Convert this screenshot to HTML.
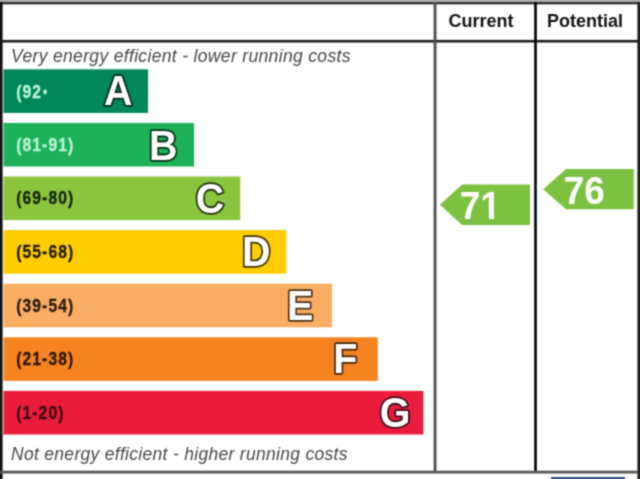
<!DOCTYPE html>
<html><head><meta charset="utf-8"><style>
html,body{margin:0;padding:0;background:#fff;width:640px;height:479px;overflow:hidden}
svg{display:block;position:absolute;left:-6px;top:-6px}
.lbl{font-family:"Liberation Sans",Arial,sans-serif;font-weight:bold;font-size:17px;letter-spacing:1.2px;stroke-width:0.3px}
.let{font-family:"Liberation Sans",Arial,sans-serif;font-weight:bold;font-size:39.5px;fill:#fff;stroke-width:3.4px;stroke-linejoin:round;paint-order:stroke}
.it{font-family:"Liberation Sans",Arial,sans-serif;font-style:italic;font-size:17.6px;letter-spacing:0.3px;fill:#474747}
.hd{font-family:"Liberation Sans",Arial,sans-serif;font-weight:bold;font-size:18px;fill:#111}
.num{font-family:"Liberation Sans",Arial,sans-serif;font-weight:bold;font-size:37px;fill:#fff}
</style></head><body>
<svg width="652" height="491" viewBox="-6 -6 652 491">
<defs><filter id="bl" color-interpolation-filters="sRGB" x="-6" y="-6" width="652" height="491" filterUnits="userSpaceOnUse"><feConvolveMatrix order="3" kernelMatrix="0.04 0.12 0.04 0.12 0.36 0.12 0.04 0.12 0.04" divisor="1" edgeMode="duplicate" preserveAlpha="true"/></filter></defs>
<g filter="url(#bl)">
<rect x="-6" y="-6" width="652" height="491" fill="#fff"/>
<rect x="-6" y="-6" width="652" height="8" fill="#aaa"/>
<rect x="-6" y="2.1" width="652" height="2.2" fill="#262626"/>
<rect x="-6" y="2" width="8.6" height="483" fill="#111"/>
<rect x="637.4" y="2" width="8.6" height="483" fill="#1e1e1e"/>
<rect x="0" y="39.9" width="639" height="2.6" fill="#1c1c1c"/>
<rect x="433.6" y="2" width="2.9" height="470" fill="#505050"/>
<rect x="534.2" y="2" width="2.6" height="470" fill="#000"/>
<rect x="0" y="470.7" width="638" height="2.8" fill="#555552"/>
<rect x="551" y="477" width="74" height="8" fill="#2a4f8f"/>

<text class="hd" x="481" y="27.4" text-anchor="middle">Current</text>
<text class="hd" x="585" y="27.4" text-anchor="middle">Potential</text>

<text class="it" x="11" y="61.5">Very energy efficient - lower running costs</text>
<text class="it" x="11" y="459.5" style="font-size:17.5px">Not energy efficient - higher running costs</text>

<rect x="3.5" y="69.3" width="144.5" height="43.6" fill="#01865a"/>
<rect x="3.5" y="122.9" width="190.5" height="43.6" fill="#1db15a"/>
<rect x="3.5" y="176.5" width="236.8" height="43.6" fill="#8bc53e"/>
<rect x="3.5" y="230.1" width="282.7" height="43.6" fill="#ffcd00"/>
<rect x="3.5" y="283.7" width="328.5" height="43.6" fill="#faae64"/>
<rect x="3.5" y="337.3" width="374.3" height="43.6" fill="#f5831f"/>
<rect x="3.5" y="390.9" width="419.9" height="43.6" fill="#eb1c3b"/>

<text class="lbl" transform="translate(16.2 97.8) scale(0.92 1.08)" fill="#b8f3d4" stroke="#b8f3d4">(92<tspan font-size="13" dx="1" dy="-1.2">•</tspan></text>
<text class="lbl" transform="translate(16.2 151.4) scale(0.92 1.08)" fill="#b8f3d4" stroke="#b8f3d4">(81-91)</text>
<text class="lbl" transform="translate(16.2 204.4) scale(0.92 1.08)" fill="#16230c" stroke="#16230c">(69-80)</text>
<text class="lbl" transform="translate(16.2 257.5) scale(0.92 1.08)" fill="#241c04" stroke="#241c04">(55-68)</text>
<text class="lbl" transform="translate(16.2 311.6) scale(0.92 1.08)" fill="#2a1a0e" stroke="#2a1a0e">(39-54)</text>
<text class="lbl" transform="translate(16.2 365.2) scale(0.92 1.08)" fill="#2e1606" stroke="#2e1606">(21-38)</text>
<text class="lbl" transform="translate(16.2 418.8) scale(0.92 1.08)" fill="#360a14" stroke="#360a14">(1-20)</text>

<text class="let" stroke="#062618" transform="translate(132.5 105.3) scale(1 1.075)" text-anchor="end">A</text>
<text class="let" stroke="#0b2e17" transform="translate(177.6 159.8) scale(1 1.075)" text-anchor="end">B</text>
<text class="let" stroke="#1f2f0c" transform="translate(224.2 213.1) scale(1 1.075)" text-anchor="end">C</text>
<text class="let" stroke="#3b3205" transform="translate(270.5 266.3) scale(1 1.075)" text-anchor="end">D</text>
<text class="let" stroke="#4a3017" transform="translate(313.4 319.5) scale(1 1.075)" text-anchor="end">E</text>
<text class="let" stroke="#44250a" transform="translate(357.3 373.4) scale(1 1.075)" text-anchor="end">F</text>
<text class="let" stroke="#3f0c16" transform="translate(410.4 427.0) scale(1 1.075)" text-anchor="end">G</text>

<polygon points="440,204.8 462,184.5 530,184.5 530,225.1 462,225.1" fill="#7dc141"/>
<text class="num" transform="translate(459.8 218.8) scale(1 1.045)">71</text>
<rect x="480.38" y="214.45" width="8.64" height="5" fill="#7dc141"/><rect x="494.09" y="214.45" width="8" height="5" fill="#7dc141"/>
<polygon points="543.2,189.2 566,169.1 633.8,169.1 633.8,209.3 566,209.3" fill="#7dc141"/>
<text class="num" transform="translate(563.7 203.7) scale(1 1.045)">76</text>
</g>
</svg>
</body></html>
